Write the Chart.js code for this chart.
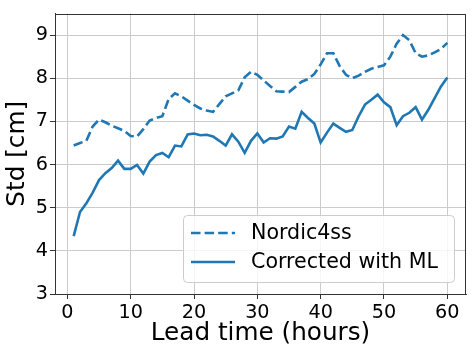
<!DOCTYPE html>
<html>
<head>
<meta charset="utf-8">
<script src="https://cdn.jsdelivr.net/npm/chart.js@4/dist/chart.umd.min.js"></script>
<style>
html,body{margin:0;padding:0;background:#fff;}
#wrap{width:474px;height:355px;}
</style>
</head>
<body>
<div id="wrap"><canvas id="c" width="474" height="355"></canvas></div>
<script>
const leadTime = [1,2,3,4,5,6,7,8,9,10,11,12,13,14,15,16,17,18,19,20,21,22,23,24,25,26,27,28,29,30,31,32,33,34,35,36,37,38,39,40,41,42,43,44,45,46,47,48,49,50,51,52,53,54,55,56,57,58,59,60];
const nordic4ss = [6.44,6.50,6.55,6.88,7.04,6.98,6.90,6.84,6.78,6.66,6.65,6.82,7.02,7.08,7.12,7.52,7.65,7.58,7.48,7.38,7.30,7.25,7.22,7.40,7.58,7.65,7.72,8.02,8.15,8.08,7.95,7.82,7.70,7.69,7.68,7.80,7.92,7.98,8.10,8.32,8.58,8.58,8.28,8.08,8.00,8.06,8.15,8.22,8.26,8.30,8.50,8.80,9.00,8.88,8.58,8.50,8.53,8.60,8.68,8.82];
const correctedML = [4.34,4.90,5.10,5.35,5.64,5.80,5.92,6.09,5.90,5.90,5.99,5.79,6.07,6.22,6.27,6.17,6.44,6.42,6.70,6.72,6.68,6.69,6.65,6.55,6.44,6.70,6.53,6.27,6.55,6.72,6.51,6.61,6.60,6.65,6.88,6.83,7.22,7.08,6.95,6.51,6.74,6.95,6.85,6.76,6.80,7.12,7.39,7.50,7.62,7.44,7.33,6.91,7.12,7.20,7.33,7.04,7.27,7.54,7.81,8.02];
const xTicks = [0,10,20,30,40,50,60];
const yTicks = [3,4,5,6,7,8,9];
const seriesNames = ['Nordic4ss','Corrected with ML'];

const BLUE = '#1f77b4';
const FONT = "'DejaVu Sans', sans-serif";

const frameLegend = {
  id: 'frameLegend',
  afterDatasetsDraw(chart) {
    const ctx = chart.ctx, a = chart.chartArea;
    ctx.save();
    ctx.strokeStyle = '#333';
    ctx.lineWidth = 1;
    ctx.strokeRect(Math.round(a.left)+0.5, Math.round(a.top)+0.5, Math.round(a.right-a.left)-1, Math.round(a.bottom-a.top));
    // legend box
    const w = 271, h = 67;
    const bx = a.right - 12 - w, by = a.bottom - 12 - h;
    ctx.beginPath();
    if (ctx.roundRect) ctx.roundRect(bx+0.5, by+0.5, w, h, 4); else ctx.rect(bx+0.5, by+0.5, w, h);
    ctx.fillStyle = 'rgba(255,255,255,0.8)';
    ctx.fill();
    ctx.strokeStyle = '#cccccc';
    ctx.stroke();
    const rows = [by + 18, by + 47];
    const dashes = [[9.5,4.1],[]];
    ctx.font = "20.6px " + FONT;
    ctx.textBaseline = 'middle';
    ctx.fillStyle = '#000';
    for (let i = 0; i < 2; i++) {
      ctx.beginPath();
      ctx.setLineDash(dashes[i]);
      ctx.strokeStyle = BLUE;
      ctx.lineWidth = 2.6;
      ctx.moveTo(bx + 8, rows[i]);
      ctx.lineTo(bx + 52, rows[i]);
      ctx.stroke();
      ctx.setLineDash([]);
      ctx.fillText(seriesNames[i], bx + 68, rows[i] + 1);
    }
    ctx.restore();
  }
};

new Chart(document.getElementById('c'), {
  type: 'line',
  data: {
    datasets: [
      { label: seriesNames[0], data: leadTime.map((t,i)=>({x:t,y:nordic4ss[i]})), borderColor: BLUE, borderWidth: 2.6, borderDash: [9.5,4.1], pointRadius: 0, fill: false, tension: 0 },
      { label: seriesNames[1], data: leadTime.map((t,i)=>({x:t,y:correctedML[i]})), borderColor: BLUE, borderWidth: 2.6, pointRadius: 0, fill: false, tension: 0 }
    ]
  },
  options: {
    responsive: false,
    animation: false,
    devicePixelRatio: 1,
    layout: { padding: { top: 9, right: 8, left: 0, bottom: 0 } },
    plugins: { legend: { display: false }, tooltip: { enabled: false } },
    scales: {
      x: {
        type: 'linear', min: -1.95, max: 62.95,
        afterBuildTicks: s => { s.ticks = xTicks.map(v => ({ value: v })); },
        afterFit: s => { s.height = 61; },
        ticks: { font: { family: FONT, size: 19.2 }, color: '#000', padding: 2, maxRotation: 0, autoSkip: false },
        grid: { color: '#cccccc', lineWidth: 1, tickLength: 5, tickColor: '#333' },
        border: { color: '#333', width: 1 },
        title: { display: true, text: 'Lead time (hours)', font: { family: FONT, size: 24.7 }, color: '#000', padding: { top: 0, bottom: 7 } }
      },
      y: {
        type: 'linear', min: 3, max: 9.5,
        afterBuildTicks: s => { s.ticks = yTicks.map(v => ({ value: v })); },
        afterFit: s => { s.width = 55; },
        ticks: { font: { family: FONT, size: 19.2 }, color: '#000', padding: 2 },
        grid: { color: '#cccccc', lineWidth: 1, tickLength: 5, tickColor: '#333' },
        border: { color: '#333', width: 1 },
        title: { display: true, text: 'Std [cm]', font: { family: FONT, size: 24.7 }, color: '#000', padding: { top: 3, bottom: 0 } }
      }
    }
  },
  plugins: [frameLegend]
});
</script>
</body>
</html>
